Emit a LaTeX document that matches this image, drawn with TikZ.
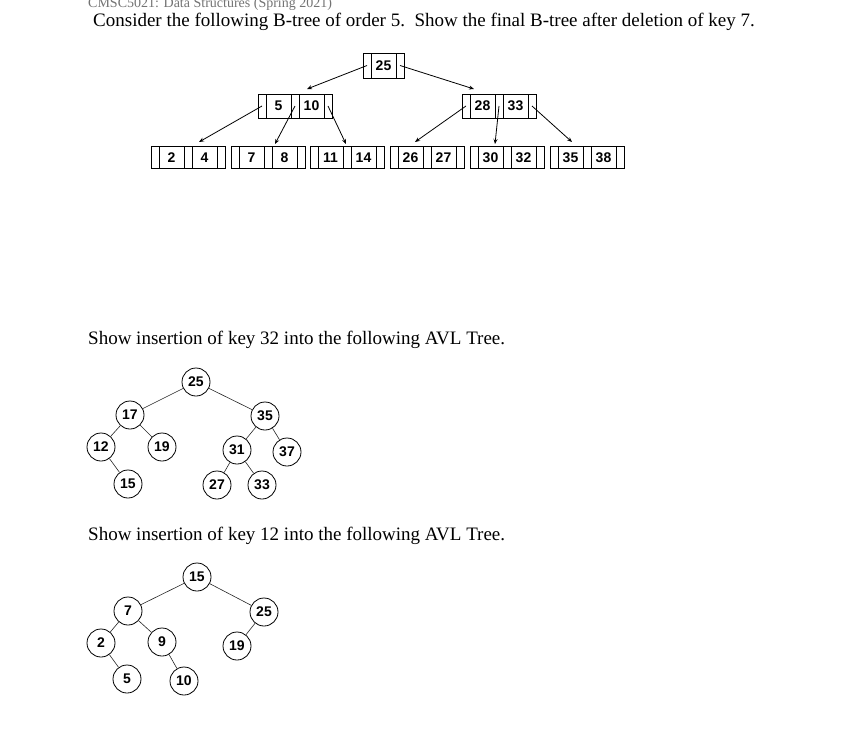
\documentclass[tikz,border=0pt]{standalone}
\usepackage{fontspec}
\setmainfont{Liberation Serif}
\setsansfont{Liberation Sans}
\usetikzlibrary{arrows.meta,positioning}

\newcommand{\keyfont}{\sffamily\bfseries\fontsize{14}{16}\selectfont}
\newcommand{\qfont}{\rmfamily\fontsize{19}{22}\selectfont}

\tikzset{
  ptrcell/.style={draw,minimum width=8pt,minimum height=24pt,inner sep=0pt,outer sep=0pt},
  keycell/.style={ptrcell,minimum width=25pt,font=\keyfont},
  barrow/.style={-{Stealth[length=5pt,width=4pt]},line width=0.8pt},
  avl/.style={draw,circle,minimum size=28pt,inner sep=0pt,line width=0.8pt,font=\keyfont},
  avledge/.style={line width=0.6pt,black!85},
  question/.style={anchor=base west,inner sep=0pt,font=\qfont}
}

% one B-tree node: pointer, key, pointer, key, ... pointer
\newcommand{\bnode}[4][]{%
  \node[ptrcell,#1,anchor=west] (#2-0) at (#3) {};
  \foreach \k [count=\i] in {#4}{%
    \pgfmathtruncatemacro{\prv}{2*\i-2}%
    \pgfmathtruncatemacro{\cur}{2*\i-1}%
    \pgfmathtruncatemacro{\nxt}{2*\i}%
    \node[keycell,#1,right=0pt of #2-\prv] (#2-\cur) {\k};
    \node[ptrcell,#1,right=0pt of #2-\cur] (#2-\nxt) {};
  }%
}

\begin{document}
\begin{tikzpicture}[x=1pt,y=-1pt]
  \useasboundingbox (0,0) rectangle (857,739);

  % texts
  \node[question,text=black!55,font=\rmfamily\fontsize{14}{16}\selectfont] (hdr) at (88,7) {CMSC5021: Data Structures (Spring 2021)};
  \node[question] (q1) at (93,26) {Consider the following B-tree of order 5.\ \ Show the final B-tree after deletion of key 7.};
  \node[question] (q2) at (88,344) {Show insertion of key 32 into the following AVL Tree.};
  \node[question] (q3) at (88,540) {Show insertion of key 12 into the following AVL Tree.};

  % B-tree
  \bnode[minimum height=25pt]{r}{363,65.5}{25}
  \bnode{a}{258,106}{5,10}
  \bnode{b}{462,106}{28,33}
  \bnode[minimum height=22pt]{l1}{151,157.5}{2,4}
  \bnode[minimum height=22pt]{l2}{231,157.5}{7,8}
  \bnode[minimum height=22pt]{l3}{310,157.5}{11,14}
  \bnode[minimum height=22pt]{l4}{390,157.5}{26,27}
  \bnode[minimum height=22pt]{l5}{470,157.5}{30,32}
  \bnode[minimum height=22pt]{l6}{550,157.5}{35,38}

  \draw[barrow] (r-0.center) -- ([xshift=-4.5pt,yshift=5pt]a-3.north);
  \draw[barrow] (r-2.center) -- ([xshift=-8.5pt,yshift=5pt]b-1.north);
  \draw[barrow] (a-0.center) -- ([xshift=11pt,yshift=4.5pt]l1-2.north);
  \draw[barrow] (a-2.center) -- ([xshift=7pt,yshift=2.5pt]l2-2.north);
  \draw[barrow] (a-4.center) -- ([xshift=-1pt,yshift=2.5pt]l3-2.north);
  \draw[barrow] (b-0.center) -- ([xshift=-12pt,yshift=4.5pt]l4-2.north);
  \draw[barrow] (b-2.center) -- ([xshift=-12pt,yshift=2.5pt]l5-2.north);
  \draw[barrow] (b-4.center) -- ([xshift=-15pt,yshift=4.5pt]l6-2.north);

  % AVL tree 1
  \foreach \n/\x/\y in {25/196/382,17/130/415,35/265/416,12/101/447,19/162/447,
                        31/237/450,37/287/452,15/128/484,27/217/485,33/262/485}
    \node[avl] (u\n) at (\x,\y) {\n};
  \foreach \s/\t in {25/17,25/35,17/12,17/19,12/15,35/31,35/37,31/27,31/33}
    \draw[avledge] (u\s) -- (u\t);

  % AVL tree 2
  \foreach \n/\x/\y in {15/197/577,7/128/611,25/264/612,2/101/643,9/162/642,
                        19/237/646,5/127/679,10/184/681}
    \node[avl] (v\n) at (\x,\y) {\n};
  \foreach \s/\t in {15/7,15/25,7/2,7/9,2/5,9/10,25/19}
    \draw[avledge] (v\s) -- (v\t);
\end{tikzpicture}
\end{document}
